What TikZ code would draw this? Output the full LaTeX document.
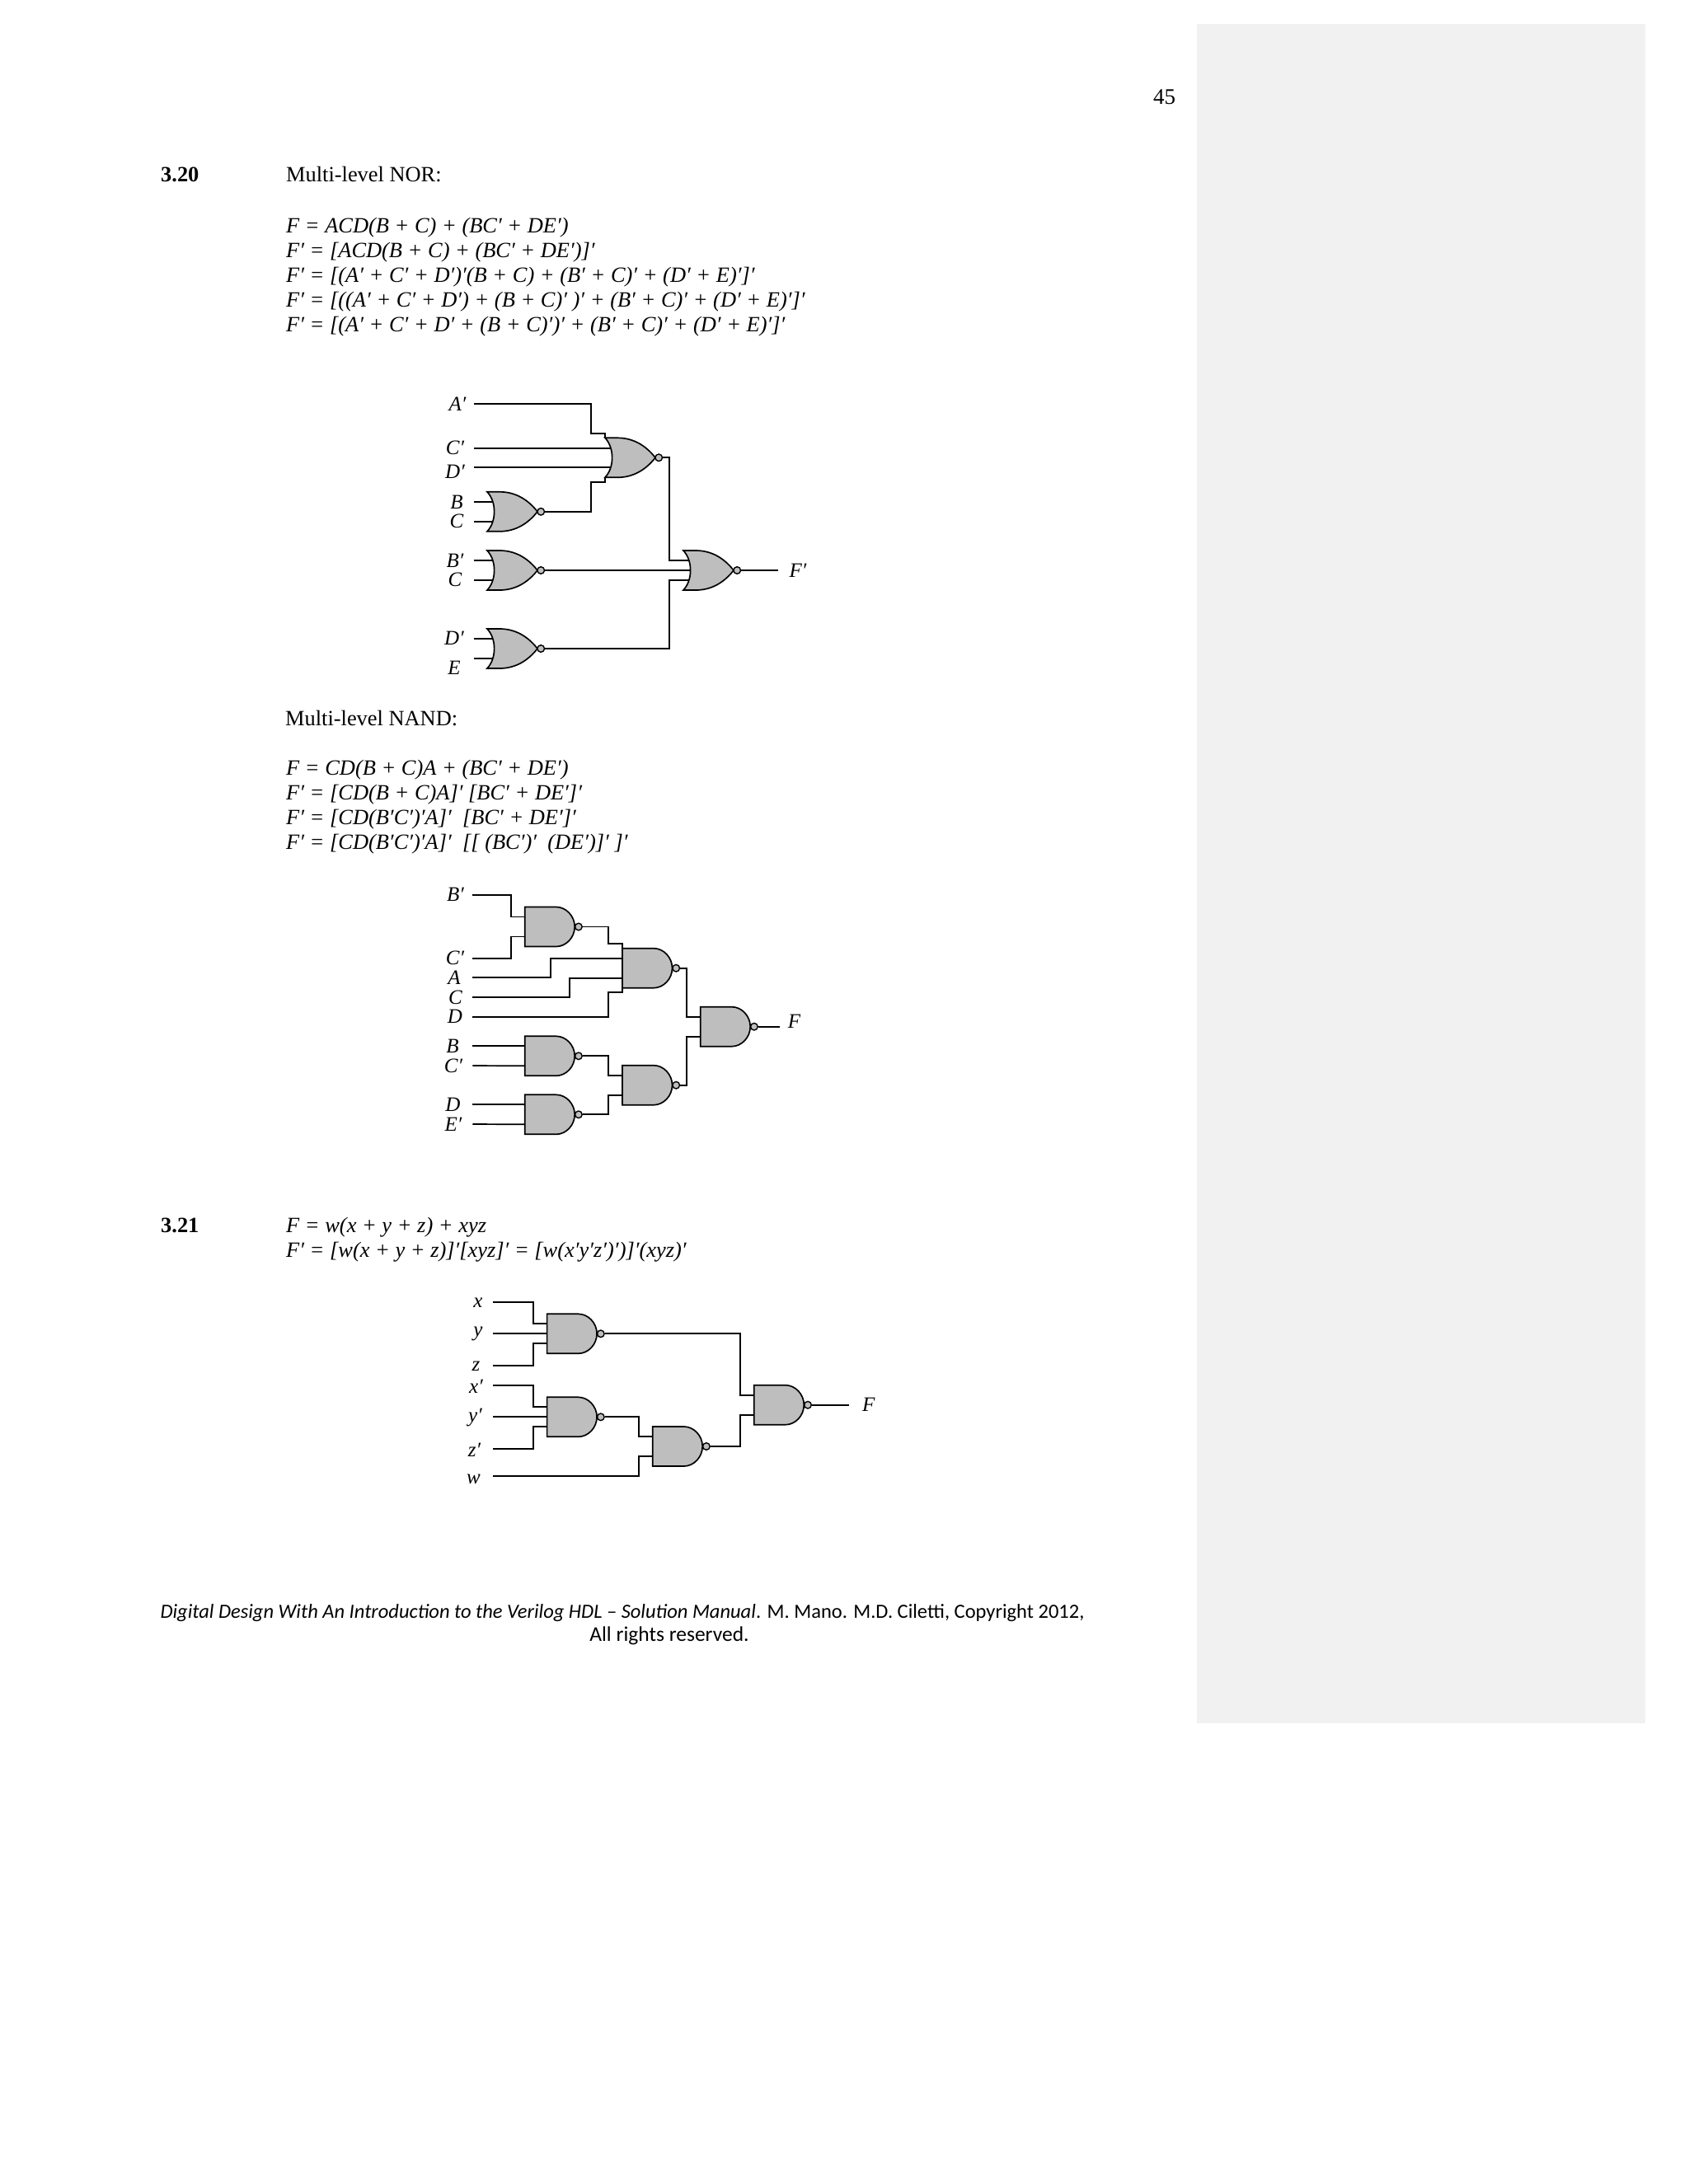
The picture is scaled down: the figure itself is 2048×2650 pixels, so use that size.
\documentclass[tikz,border=0pt]{standalone}
\usepackage{fontspec}
\setmainfont{Liberation Serif}
\newfontfamily\footfont{Carlito}
\usetikzlibrary{calc}
\definecolor{gatefill}{HTML}{BEBEBE}
\definecolor{sidebar}{HTML}{F1F1F1}
\newcommand{\eqsize}{\fontsize{26.4}{30}\selectfont}
\newcommand{\lblsize}{\fontsize{25}{27}\selectfont}
\newcommand{\pr}{′}
\tikzset{
  x=1pt,y=-1pt,
  gatebody/.style={draw=black,fill=gatefill,line width=1.7pt,line join=miter},
  bubble/.style={circle,draw=black,fill=gatefill,line width=1.4pt,minimum size=8.6pt,inner sep=0pt},
  wire/.style={draw=black,line width=1.7pt,line join=miter},
  bodytext/.style={anchor=base west,inner sep=0pt,font=\eqsize},
  eqtext/.style={anchor=base west,inner sep=0pt,font=\eqsize\itshape},
  lbl/.style={inner sep=0pt,font=\lblsize\itshape},
  foot/.style={inner sep=0pt,font=\footfont\fontsize{24.5}{28}\selectfont},
  footb/.style={inner sep=0pt,font=\footfont\fontsize{25.5}{28}\selectfont}
}
% #1 name, #2 x of back, #3 y of centre
\newcommand{\norgate}[3]{%
  \coordinate (#1) at (#2,#3);
  \path[gatebody] (#2,#3-24) -- (#2+15,#3-24)
     .. controls (#2+35,#3-24) and (#2+50,#3-14) .. (#2+61,#3)
     .. controls (#2+50,#3+14) and (#2+35,#3+24) .. (#2+15,#3+24) -- (#2,#3+24)
     .. controls (#2+11.5,#3+12) and (#2+11.5,#3-12) .. cycle;
  \node[bubble] (#1b) at (#2+65.2,#3) {};
  \coordinate (#1-o) at (#1b.east);
  \coordinate (#1-a) at (#2+6,#3-12);
  \coordinate (#1-m) at (#2+8,#3);
  \coordinate (#1-c) at (#2+6,#3+12);
}
\newcommand{\nandgate}[3]{%
  \coordinate (#1) at (#2,#3);
  \path[gatebody] (#2,#3-24) -- (#2+38,#3-24)
     .. controls (#2+50,#3-24) and (#2+60.5,#3-13) .. (#2+60.5,#3)
     .. controls (#2+60.5,#3+13) and (#2+50,#3+24) .. (#2+38,#3+24) -- (#2,#3+24) -- cycle;
  \node[bubble] (#1b) at (#2+65.2,#3) {};
  \coordinate (#1-o) at (#1b.east);
  \coordinate (#1-a) at (#2,#3-12);
  \coordinate (#1-m) at (#2,#3);
  \coordinate (#1-c) at (#2,#3+12);
}
\begin{document}
\begin{tikzpicture}
\useasboundingbox (0,0) rectangle (2048,2650);
\fill[white] (0,0) rectangle (2048,2650);
\fill[sidebar] (1452,29) rectangle (1996,2091);
\node[bodytext,font=\fontsize{27}{30}\selectfont] (pg) at (1399,126) {45};
% ---- text
\node[bodytext,font=\eqsize\bfseries] (n320) at (195,220) {3.20};
\node[bodytext] (t1) at (347,220) {Multi-level NOR:};
\node[eqtext] (e1) at (347,282) {F = ACD(B + C) + (BC\pr{} + DE\pr)};
\node[eqtext] (e2) at (347,312) {F\pr{} = [ACD(B + C) + (BC\pr{} + DE\pr)]\pr};
\node[eqtext] (e3) at (347,342) {F\pr{} = [(A\pr{} + C\pr{} + D\pr)\pr(B + C) + (B\pr{} + C)\pr{} + (D\pr{} + E)\pr]\pr};
\node[eqtext] (e4) at (347,372) {F\pr{} = [((A\pr{} + C\pr{} + D\pr) + (B + C)\pr{} )\pr{} + (B\pr{} + C)\pr{} + (D\pr{} + E)\pr]\pr};
\node[eqtext] (e5) at (347,402) {F\pr{} = [(A\pr{} + C\pr{} + D\pr{} + (B + C)\pr)\pr{} + (B\pr{} + C)\pr{} + (D\pr{} + E)\pr]\pr};
\node[bodytext] (t2) at (346,880) {Multi-level NAND:};
\node[eqtext] (f1) at (347,940) {F = CD(B + C)A + (BC\pr{} + DE\pr)};
\node[eqtext] (f2) at (347,970) {F\pr{} = [CD(B + C)A]\pr{} [BC\pr{} + DE\pr]\pr};
\node[eqtext] (f3) at (347,1000) {F\pr{} = [CD(B\pr C\pr)\pr A]\pr\ \ [BC\pr{} + DE\pr]\pr};
\node[eqtext] (f4) at (347,1030) {F\pr{} = [CD(B\pr C\pr)\pr A]\pr\ \ [[ (BC\pr)\pr\ \ (DE\pr)]\pr{} ]\pr};
\node[bodytext,font=\eqsize\bfseries] (n321) at (195,1495) {3.21};
\node[eqtext] (g1t) at (347,1495) {F = w(x + y + z) + xyz};
\node[eqtext] (g2t) at (347,1525) {F\pr{} = [w(x + y + z)]\pr[xyz]\pr{} = [w(x\pr y\pr z\pr)\pr)]\pr(xyz)\pr};
\node[foot,anchor=base] (ft1) at (755,1963) {\itshape Digital Design With An Introduction to the Verilog HDL – Solution Manual\upshape. M. Mano. M.D. Ciletti, Copyright 2012,};
\node[footb,anchor=base] (ft2) at (812,1991) {All rights reserved.};
% ---- NOR circuit
\node[lbl] (a1) at (555,490.5) {A\pr};
\node[lbl] (a2) at (552,543.7) {C\pr};
\node[lbl] (a3) at (552,572) {D\pr};
\node[lbl] (a4) at (554,609) {B};
\node[lbl] (a5) at (554,632) {C};
\node[lbl] (a6) at (552,680) {B\pr};
\node[lbl] (a7) at (552,703) {C};
\node[lbl] (a8) at (551,774) {D\pr};
\node[lbl] (a9) at (551,810.5) {E};
\node[lbl] (a10) at (968,692) {F\pr};
\coordinate (s1) at (575,490.3);
\coordinate (s2) at (575,543.7);
\coordinate (s3) at (575,567.3);
\coordinate (s4) at (575,608.8);
\coordinate (s5) at (575,632.8);
\coordinate (s6) at (575,680);
\coordinate (s7) at (575,704);
\coordinate (s8) at (575,775);
\coordinate (s9) at (575,799);
\coordinate (oF1) at (943.5,692);
\draw[wire] (s4) -- ++(22,0);
\draw[wire] (s5) -- ++(22,0);
\draw[wire] (s6) -- ++(22,0);
\draw[wire] (s7) -- ++(22,0);
\draw[wire] (s8) -- ++(22,0);
\draw[wire] (s9) -- ++(22,0);
\draw[wire] (s2) -- ++(167,0);
\draw[wire] (s3) -- ++(167,0);
\norgate{n1}{734}{555.3}
\norgate{n2}{591}{620.8}
\norgate{n3}{591}{692}
\norgate{n4}{591}{787}
\norgate{n5}{829}{692}
\draw[wire] (s1) -| (717.3,526) -- (734,526) -- (734,531.3);
\draw[wire] (n2-o) -| (717.3,585) -- (734,585) -- (734,579.3);
\draw[wire] (n1-o) -| (812.3,680) -- (n5-a);
\draw[wire] (n3-o) -- (n5-m);
\draw[wire] (n4-o) -| (812.3,704) -- (n5-c);
\draw[wire] (n5-o) -- (oF1);
% ---- NAND circuit
\node[lbl] (b1) at (552.5,1085.7) {B\pr};
\node[lbl] (b2) at (552,1162.7) {C\pr};
\node[lbl] (b3) at (551,1186.3) {A};
\node[lbl] (b4) at (552.5,1210) {C};
\node[lbl] (b5) at (552,1233.7) {D};
\node[lbl] (b6) at (549,1269.3) {B};
\node[lbl] (b7) at (550,1293) {C\pr};
\node[lbl] (b8) at (549.5,1340.3) {D};
\node[lbl] (b9) at (550,1364) {E\pr};
\node[lbl] (b10) at (963.5,1239.5) {F};
\coordinate (r1) at (573.3,1085.7);
\coordinate (r2) at (573.3,1162.7);
\coordinate (r3) at (573.3,1186.3);
\coordinate (r4) at (573.3,1210);
\coordinate (r5) at (573.3,1233.7);
\coordinate (r6) at (573.3,1269.3);
\coordinate (r7) at (573.3,1293);
\coordinate (r8) at (573.3,1340.3);
\coordinate (r9) at (573.3,1364);
\coordinate (oF2) at (945.7,1245.7);
\nandgate{p1}{636.7}{1124.5}
\nandgate{p2}{755}{1174.7}
\nandgate{p3}{636.7}{1281.3}
\nandgate{p4}{636.7}{1352.3}
\nandgate{p5}{755}{1316.7}
\nandgate{p6}{849.7}{1245.7}
\draw[wire] (r1) -| (620,1112.5) -- (p1-a);
\draw[wire] (r2) -| (620,1136.5) -- (p1-c);
\draw[wire] (p1-o) -| (738.3,1145) -- (755,1145) -- (755,1150.7);
\draw[wire] (r3) -| (667.7,1162.7) -- (p2-a);
\draw[wire] (r4) -| (691,1186.7) -- (p2-c);
\draw[wire] (r5) -| (738.3,1204) -- (755,1204) -- (755,1198.7);
\draw[wire] (r6) -- (p3-a);
\draw[wire] (r7) -- (p3-c);
\draw[wire] (r8) -- (p4-a);
\draw[wire] (r9) -- (p4-c);
\draw[wire] (p3-o) -| (738.3,1304.7) -- (p5-a);
\draw[wire] (p4-o) -| (738.3,1328.7) -- (p5-c);
\draw[wire] (p2-o) -| (833.3,1233.7) -- (p6-a);
\draw[wire] (p5-o) -| (833.3,1257.7) -- (p6-c);
\draw[wire] (p6-o) -- (oF2);
% ---- 3.21 circuit
\node[lbl] (c1) at (580,1581) {x};
\node[lbl] (c2) at (580,1618) {y};
\node[lbl] (c3) at (577.5,1658) {z};
\node[lbl] (c4) at (577.5,1682.7) {x\pr};
\node[lbl] (c5) at (576.5,1720) {y\pr};
\node[lbl] (c6) at (575.5,1759) {z\pr};
\node[lbl] (c7) at (574.5,1795) {w};
\node[lbl] (c8) at (1053.7,1704) {F};
\coordinate (u1) at (598,1580);
\coordinate (u2) at (598,1618.3);
\coordinate (u3) at (598,1657.3);
\coordinate (u4) at (598,1681.3);
\coordinate (u5) at (598,1719.3);
\coordinate (u6) at (598,1758);
\coordinate (u7) at (598,1790.7);
\coordinate (oF3) at (1029.7,1704.7);
\nandgate{q1}{663.6}{1618.3}
\nandgate{q2}{663.6}{1719.3}
\nandgate{q3}{791.7}{1755}
\nandgate{q4}{914.8}{1704.7}
\draw[wire] (u1) -| (646.7,1606.3) -- (q1-a);
\draw[wire] (u2) -- (q1-m);
\draw[wire] (u3) -| (646.7,1630.3) -- (q1-c);
\draw[wire] (u4) -| (646.7,1707.3) -- (q2-a);
\draw[wire] (u5) -- (q2-m);
\draw[wire] (u6) -| (646.7,1731.3) -- (q2-c);
\draw[wire] (u7) -| (774.8,1767) -- (q3-c);
\draw[wire] (q2-o) -| (774.8,1743) -- (q3-a);
\draw[wire] (q1-o) -| (898.3,1692.7) -- (q4-a);
\draw[wire] (q3-o) -| (898.3,1716.7) -- (q4-c);
\draw[wire] (q4-o) -- (oF3);
\end{tikzpicture}
\end{document}
